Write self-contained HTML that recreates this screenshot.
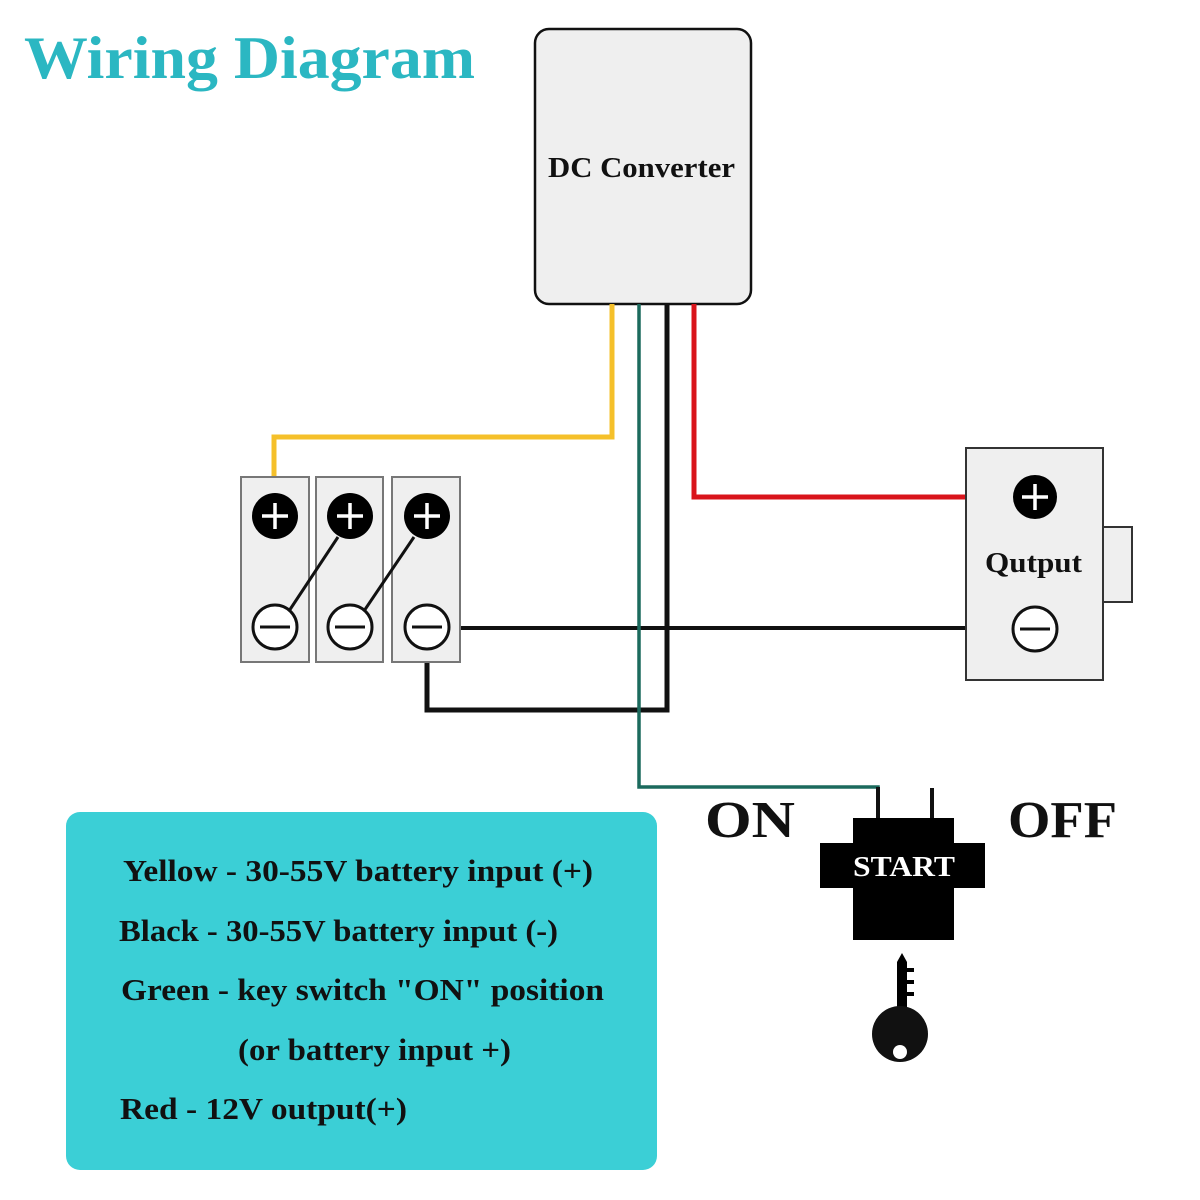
<!DOCTYPE html>
<html><head><meta charset="utf-8"><style>
html,body{margin:0;padding:0;background:#fff;}
svg{display:block;}
text{font-family:"Liberation Serif",serif;}
</style></head><body>
<svg width="1200" height="1200" viewBox="0 0 1200 1200" xmlns="http://www.w3.org/2000/svg">
<rect width="1200" height="1200" fill="#fff"/>
<text x="24" y="78" font-size="60" font-weight="bold" fill="#2bb7c2" textLength="451" lengthAdjust="spacingAndGlyphs">Wiring Diagram</text>
<rect x="535" y="29" width="216" height="275" rx="14" fill="#efefef" stroke="#111" stroke-width="2.5"/>
<text x="548" y="177" font-size="29" font-weight="bold" fill="#111" textLength="187" lengthAdjust="spacingAndGlyphs">DC Converter</text>
<polyline points="612,304 612,437 274,437 274,500" fill="none" stroke="#f5c02a" stroke-width="5"/>
<polyline points="694,304 694,497 1020,497" fill="none" stroke="#d9141b" stroke-width="5"/>
<line x1="450" y1="628" x2="1013" y2="628" stroke="#111" stroke-width="4"/>
<polyline points="667,304 667,710 427,710 427,650" fill="none" stroke="#111" stroke-width="5"/>
<polyline points="639,304 639,787 878,787 878,820" fill="none" stroke="#1b6a5d" stroke-width="3.5"/>
<g fill="#efefef" stroke="#777" stroke-width="2">
<rect x="241" y="477" width="68" height="185"/>
<rect x="316" y="477" width="67" height="185"/>
<rect x="392" y="477" width="68" height="185"/>
</g>
<g stroke="#111" stroke-width="3">
<line x1="289" y1="611" x2="338" y2="537"/>
<line x1="364" y1="611" x2="414" y2="537"/>
</g>
<g>
<circle cx="275" cy="516" r="23" fill="#000"/>
<circle cx="350" cy="516" r="23" fill="#000"/>
<circle cx="427" cy="516" r="23" fill="#000"/>
</g>
<g stroke="#fff" stroke-width="3.5">
<path d="M262 516h26M275 503v26M337 516h26M350 503v26M414 516h26M427 503v26"/>
</g>
<g fill="#fff" stroke="#111" stroke-width="3">
<circle cx="275" cy="627" r="22"/>
<circle cx="350" cy="627" r="22"/>
<circle cx="427" cy="627" r="22"/>
</g>
<g stroke="#111" stroke-width="3">
<path d="M260 627h30M335 627h30M412 627h30"/>
</g>
<rect x="1103" y="527" width="29" height="75" fill="#efefef" stroke="#333" stroke-width="2"/>
<rect x="966" y="448" width="137" height="232" fill="#efefef" stroke="#333" stroke-width="2"/>
<circle cx="1035" cy="497" r="22" fill="#000"/>
<path d="M1022 497h26M1035 484v26" stroke="#fff" stroke-width="3.5"/>
<circle cx="1035" cy="629" r="22" fill="#fff" stroke="#111" stroke-width="3"/>
<path d="M1020 629h30" stroke="#111" stroke-width="3"/>
<text x="985" y="572" font-size="29" font-weight="bold" fill="#111" textLength="97" lengthAdjust="spacingAndGlyphs">Qutput</text>
<text x="705" y="837" font-size="52" font-weight="bold" fill="#111" textLength="90" lengthAdjust="spacingAndGlyphs">ON</text>
<text x="1008" y="837" font-size="52" font-weight="bold" fill="#111" textLength="109" lengthAdjust="spacingAndGlyphs">OFF</text>
<line x1="932" y1="788" x2="932" y2="820" stroke="#111" stroke-width="4"/>
<line x1="878" y1="787" x2="878" y2="820" stroke="#111" stroke-width="4"/>
<rect x="853" y="818" width="101" height="122" fill="#000"/>
<rect x="820" y="843" width="165" height="45" fill="#000"/>
<text x="853" y="876" font-size="29" font-weight="bold" fill="#fff" textLength="102" lengthAdjust="spacingAndGlyphs">START</text>
<path d="M897 1012 V962 L902 953 L907 962 V968 H914 V972 H907 V980 H914 V984 H907 V992 H914 V996 H907 V1012 Z" fill="#000"/>
<circle cx="900" cy="1034" r="28" fill="#111"/>
<circle cx="900" cy="1052" r="7" fill="#fff"/>
<rect x="66" y="812" width="591" height="358" rx="14" fill="#3bcfd6"/>
<g font-size="31" font-weight="bold" fill="#111" lengthAdjust="spacingAndGlyphs">
<text x="123" y="881" textLength="470" lengthAdjust="spacingAndGlyphs">Yellow - 30-55V battery input (+)</text>
<text x="119" y="941" textLength="439" lengthAdjust="spacingAndGlyphs">Black - 30-55V battery input (-)</text>
<text x="121" y="1000" textLength="483" lengthAdjust="spacingAndGlyphs">Green - key switch "ON" position</text>
<text x="238" y="1060" textLength="273" lengthAdjust="spacingAndGlyphs">(or battery input +)</text>
<text x="120" y="1119" textLength="287" lengthAdjust="spacingAndGlyphs">Red - 12V output(+)</text>
</g>
</svg>
</body></html>
